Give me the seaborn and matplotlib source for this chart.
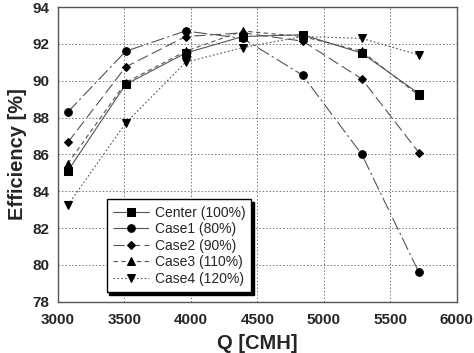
import matplotlib
matplotlib.use('Agg')
import matplotlib.pyplot as plt
import seaborn as sns
import pandas as pd

# Flow rate [CMH]
q = [3075, 3510, 3960, 4390, 4840, 5285, 5714]

center = [85.1, 89.8, 91.5, 92.4, 92.5, 91.5, 89.3]
case1 = [88.3, 91.6, 92.7, 92.3, 90.3, 86.0, 79.6]
case2 = [86.65, 90.75, 92.4, 92.6, 92.15, 90.1, 86.1]
case3 = [85.5, 89.9, 91.6, 92.7, 92.4, 91.6, 89.2]
case4 = [83.25, 87.7, 91.0, 91.8, 92.4, 92.3, 91.4]

labels = ['Center (100%)', 'Case1 (80%)', 'Case2 (90%)', 'Case3 (110%)', 'Case4 (120%)']
series = [center, case1, case2, case3, case4]

rows = []
for lab, vals in zip(labels, series):
    for x, y in zip(q, vals):
        rows.append({'Q': x, 'Eff': y, 'case': lab})
df = pd.DataFrame(rows)

sns.set_style('white')
plt.rcParams['font.family'] = ['Liberation Sans', 'DejaVu Sans']

fig = plt.figure(figsize=(4.74, 3.53), dpi=100)
ax = fig.add_axes([0.122, 0.145, 0.842, 0.835])

dashes = {
    labels[0]: '',
    labels[1]: (12, 3, 2, 3),
    labels[2]: (10, 4),
    labels[3]: (4, 3),
    labels[4]: (1.5, 2),
}
markers = {labels[0]: 's', labels[1]: 'o', labels[2]: 'D', labels[3]: '^', labels[4]: 'v'}
sizes = {labels[0]: 5.5, labels[1]: 5.5, labels[2]: 3.8, labels[3]: 5.5, labels[4]: 5.5}

sns.lineplot(data=df, x='Q', y='Eff', hue='case', style='case',
             palette=['#555555'] * 5, dashes=dashes, markers=markers,
             markersize=5.5, markeredgecolor='black', markerfacecolor='black',
             linewidth=0.8, ax=ax, legend=False)

# diamond markers smaller
for line, lab in zip(ax.get_lines(), labels):
    line.set_markersize(sizes[lab])

ax.set_xlim(3000, 6000)
ax.set_ylim(78, 94)
ax.set_xticks(range(3000, 6001, 500))
ax.set_yticks(range(78, 95, 2))
ax.grid(True, linestyle=(0, (1.5, 2)), color='#777777', linewidth=0.7)
for s in ax.spines.values():
    s.set_color('#555555')
    s.set_linewidth(1.0)
ax.tick_params(axis='both', labelsize=11, direction='in', length=3, color='#555555')
ax.tick_params(axis='x', pad=8)
ax.tick_params(axis='y', pad=6)
for t in ax.get_xticklabels() + ax.get_yticklabels():
    t.set_fontweight('bold')
ax.set_xlabel('Q [CMH]', fontsize=14.5, fontweight='bold', labelpad=5)
ax.set_ylabel('Efficiency [%]', fontsize=14.5, fontweight='bold', labelpad=4)

handles = ax.get_lines()[:5]
leg = ax.legend(handles, labels, loc='lower left', bbox_to_anchor=(0.105, 0.01),
                fontsize=10, frameon=True, fancybox=False, shadow={'color': 'black', 'alpha': 1},
                handlelength=2.6, borderpad=0.45, labelspacing=0.18, handletextpad=0.4)
leg.get_frame().set_edgecolor('black')
leg.get_frame().set_linewidth(1.0)

fig.savefig('out.png', dpi=100)
